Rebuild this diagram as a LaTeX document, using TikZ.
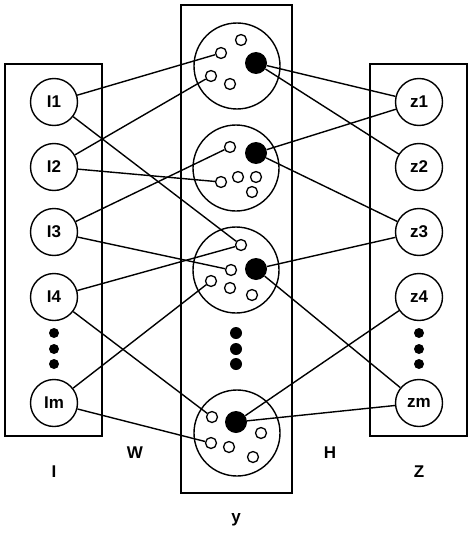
\documentclass[tikz,border=0pt]{standalone}
\usepackage{fontspec}
\setmainfont{Liberation Sans}
\begin{document}
\begin{tikzpicture}[x=1pt,y=-1pt,
  unit/.style={circle, draw, line width=1.4pt, minimum size=47pt, inner sep=0pt, font=\bfseries\fontsize{17}{17}\selectfont},
  sm/.style={circle, draw, line width=1.3pt, minimum size=11pt, inner sep=0pt, fill=white},
  big/.style={circle, fill=black, minimum size=22pt, inner sep=0pt},
  dotn/.style={circle, fill=black, minimum size=10pt, inner sep=0pt},
  dotc/.style={circle, fill=black, minimum size=12pt, inner sep=0pt},
  cluster/.style={circle, draw, line width=1.4pt, minimum size=86pt, inner sep=0pt},
  box/.style={draw, line width=1.4pt},
  edge/.style={line width=1.4pt},
  lab/.style={font=\bfseries\fontsize{17}{17}\selectfont}]
\useasboundingbox (0,0) rectangle (474,535);
% boxes
\draw[box] (5,64) rectangle (102,436);
\draw[box] (181,5) rectangle (292,493);
\draw[box] (370,64) rectangle (467,436);
% left units
\node[unit] (I1) at (54,102) {I1};
\node[unit] (I2) at (54,167) {I2};
\node[unit] (I3) at (54,232) {I3};
\node[unit] (I4) at (54,297) {I4};
\node[unit] (Im) at (54,403) {Im};
\node[dotn] (ld1) at (54,333) {};
\node[dotn] (ld2) at (54,349) {};
\node[dotn] (ld3) at (54,364) {};
% right units
\node[unit] (z1) at (419,102) {z1};
\node[unit] (z2) at (419,167) {z2};
\node[unit] (z3) at (419,232) {z3};
\node[unit] (z4) at (419,297) {z4};
\node[unit] (zm) at (419,403) {zm};
\node[dotn] (rd1) at (419,333) {};
\node[dotn] (rd2) at (419,349) {};
\node[dotn] (rd3) at (419,364) {};
% clusters
\node[cluster] (c1) at (237,66) {};
\node[cluster] (c2) at (236,168) {};
\node[cluster] (c3) at (236,270) {};
\node[cluster] (c4) at (237,433) {};
\node[dotc] (cd1) at (236,333) {};
\node[dotc] (cd2) at (236,349) {};
\node[dotc] (cd3) at (236,364) {};
% cluster 1
\node[sm] (c1a) at (241,40) {};
\node[sm] (c1b) at (221,53) {};
\node[sm] (c1c) at (211,76) {};
\node[sm] (c1d) at (230,84) {};
\node[big] (c1f) at (256,63) {};
% cluster 2
\node[sm] (c2a) at (230,147) {};
\node[sm] (c2b) at (221,182) {};
\node[sm] (c2c) at (238,177) {};
\node[sm] (c2d) at (256,177) {};
\node[sm] (c2e) at (252,192) {};
\node[big] (c2f) at (256,153) {};
% cluster 3
\node[sm] (c3a) at (241,245) {};
\node[sm] (c3b) at (231,270) {};
\node[sm] (c3c) at (211,281) {};
\node[sm] (c3d) at (230,288) {};
\node[sm] (c3e) at (252,295) {};
\node[big] (c3f) at (256,269) {};
% cluster 4
\node[sm] (c4a) at (212,417) {};
\node[sm] (c4b) at (261,433) {};
\node[sm] (c4c) at (211,443) {};
\node[sm] (c4d) at (229,447) {};
\node[sm] (c4e) at (253,457) {};
\node[big] (c4f) at (236,422) {};
% left connections
\draw[edge] (I1) -- (c1b);
\draw[edge] (I1) -- (c3a);
\draw[edge] (I2) -- (c1c);
\draw[edge] (I2) -- (c2b);
\draw[edge] (I3) -- (c2a);
\draw[edge] (I3) -- (c3b);
\draw[edge] (I4) -- (c3a);
\draw[edge] (I4) -- (c4a);
\draw[edge] (Im) -- (c3c);
\draw[edge] (Im) -- (c4c);
% right connections
\draw[edge] (c1f) -- (z1);
\draw[edge] (c1f) -- (z2);
\draw[edge] (c2f) -- (z1);
\draw[edge] (c2f) -- (z3);
\draw[edge] (c3f) -- (z3);
\draw[edge] (c3f) -- (zm);
\draw[edge] (c4f) -- (z4);
\draw[edge] (c4f) -- (zm);
% labels
\node[lab] (lI) at (54,472) {I};
\node[lab] (lW) at (135,453) {W};
\node[lab] (lH) at (330,453) {H};
\node[lab] (lZ) at (419,472) {Z};
\node[lab] (ly) at (236,520) {y};
\end{tikzpicture}
\end{document}
